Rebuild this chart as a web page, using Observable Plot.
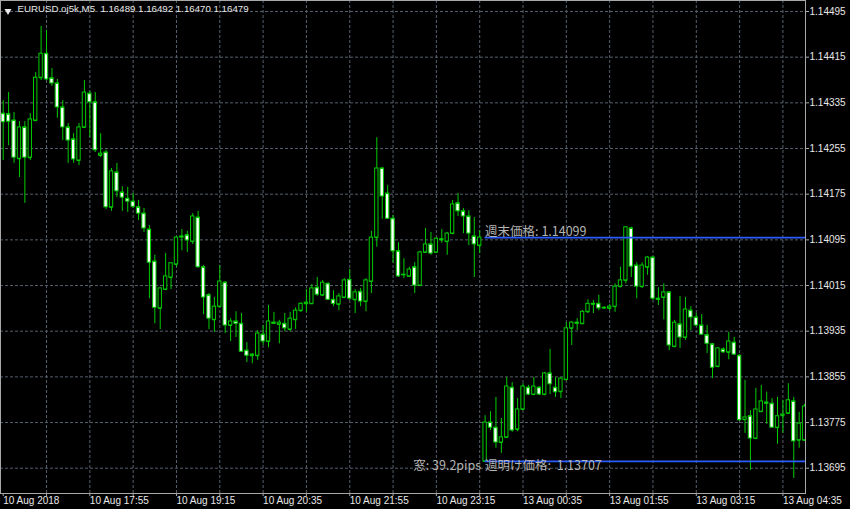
<!DOCTYPE html>
<html><head><meta charset="utf-8">
<script src="https://cdn.jsdelivr.net/npm/d3@7"></script>
<script src="https://cdn.jsdelivr.net/npm/@observablehq/plot@0.6"></script>
<style>
html,body{margin:0;padding:0;background:#000;}
</style></head><body><div id="chart"></div>
<script>
const symbolTitle = "EURUSD.oj5k,M5";
const headerQuotes = ["1.16489", "1.16492", "1.16470", "1.16479"];

const opens = [1.14316,1.14315,1.14304,1.14237,1.14292,1.14239,1.14304,1.14379,1.14421,1.14378,
1.14369,1.14327,1.14292,1.14271,1.14234,1.14292,1.14351,1.14336,1.14243,1.14248,
1.14152,1.14213,1.14178,1.14167,1.14162,1.14152,1.14141,1.14113,1.14057,1.13975,
1.14008,1.14029,1.14052,1.14101,1.14103,1.14092,1.14134,1.14047,1.13998,1.13955,
1.13978,1.14020,1.13945,1.13952,1.13948,1.13901,1.13892,1.13892,1.13929,1.13917,
1.13950,1.13947,1.13948,1.13938,1.13955,1.13971,1.13983,1.13983,1.14011,1.13998,
1.14018,1.13990,1.13982,1.13994,1.14025,1.13990,1.14004,1.13987,1.14022,1.14099,
1.14220,1.14176,1.14132,1.14075,1.14034,1.14031,1.14047,1.14015,1.14073,1.14087,
1.14073,1.14096,1.14092,1.14106,1.14159,1.14145,1.14136,1.14101,1.14085,1.13707,
1.13775,1.13766,1.13740,1.13749,1.13836,1.13763,1.13798,1.13836,1.13824,1.13836,
1.13824,1.13861,1.13836,1.13829,1.13850,1.13940,1.13950,1.13948,1.13969,1.13982,
1.13983,1.13976,1.13975,1.13978,1.14013,1.14024,1.14115,1.14050,1.14013,1.14047,
1.14064,1.13992,1.13994,1.14003,1.13908,1.13947,1.13924,1.13971,1.13959,1.13945,
1.13928,1.13912,1.13873,1.13903,1.13898,1.13915,1.13892,1.13780,1.13786,1.13747,
1.13794,1.13810,1.13808,1.13766,1.13787,1.13791,1.13812,1.13744,1.13744];

const highs = [1.14339,1.14353,1.14318,1.14302,1.14302,1.14316,1.14388,1.14469,1.14462,1.14395,
1.14376,1.14339,1.14299,1.14281,1.14299,1.14374,1.14355,1.14353,1.14281,1.14252,
1.14220,1.14229,1.14188,1.14187,1.14176,1.14164,1.14150,1.14120,1.14068,1.14011,
1.14071,1.14055,1.14101,1.14113,1.14110,1.14141,1.14145,1.14050,1.14001,1.13994,
1.14050,1.14022,1.13957,1.13969,1.13966,1.13915,1.13896,1.13936,1.13945,1.13980,
1.13968,1.13954,1.13966,1.13968,1.13976,1.13985,1.14008,1.14017,1.14029,1.14024,
1.14020,1.14006,1.14001,1.14027,1.14043,1.14008,1.14010,1.14027,1.14110,1.14274,
1.14222,1.14190,1.14138,1.14090,1.14062,1.14047,1.14055,1.14075,1.14115,1.14108,
1.14099,1.14113,1.14108,1.14164,1.14176,1.14150,1.14146,1.14134,1.14111,1.13787,
1.13794,1.13819,1.13782,1.13854,1.13845,1.13817,1.13843,1.13840,1.13854,1.13838,
1.13863,1.13903,1.13854,1.13854,1.13950,1.13952,1.13957,1.13971,1.13990,1.13989,
1.13998,1.13978,1.13982,1.14018,1.14047,1.14118,1.14117,1.14055,1.14055,1.14066,
1.14066,1.14011,1.14018,1.14004,1.13954,1.13996,1.13994,1.13978,1.13966,1.13964,
1.13945,1.13913,1.13906,1.13906,1.13933,1.13924,1.13894,1.13849,1.13796,1.13835,
1.13840,1.13828,1.13817,1.13819,1.13814,1.13843,1.13819,1.13793,1.13807];

const lows = [1.14234,1.14260,1.14229,1.14204,1.14159,1.14234,1.14302,1.14374,1.14374,1.14364,
1.14308,1.14269,1.14229,1.14229,1.14225,1.14290,1.14274,1.14248,1.14239,1.14148,
1.14145,1.14169,1.14145,1.14143,1.14150,1.14129,1.14108,1.13992,1.13948,1.13938,
1.14006,1.14008,1.14047,1.14076,1.14073,1.14087,1.14045,1.13964,1.13938,1.13933,
1.13976,1.13931,1.13917,1.13924,1.13898,1.13880,1.13878,1.13884,1.13910,1.13906,
1.13947,1.13913,1.13934,1.13934,1.13938,1.13968,1.13968,1.13982,1.13996,1.13996,
1.13989,1.13978,1.13971,1.13992,1.13989,1.13966,1.13978,1.13969,1.14001,1.14082,
1.14131,1.14131,1.14054,1.14029,1.14027,1.14029,1.14001,1.14013,1.14071,1.14068,
1.14071,1.14089,1.14068,1.14104,1.14136,1.14106,1.14085,1.14029,1.14071,1.13705,
1.13761,1.13730,1.13721,1.13747,1.13758,1.13759,1.13796,1.13822,1.13822,1.13822,
1.13822,1.13824,1.13819,1.13817,1.13849,1.13910,1.13936,1.13947,1.13966,1.13966,
1.13971,1.13973,1.13971,1.13968,1.14011,1.14018,1.14029,1.13992,1.14010,1.14033,
1.13989,1.13980,1.13955,1.13901,1.13906,1.13905,1.13919,1.13936,1.13943,1.13928,
1.13896,1.13852,1.13871,1.13896,1.13885,1.13892,1.13777,1.13756,1.13691,1.13745,
1.13793,1.13772,1.13765,1.13737,1.13756,1.13789,1.13677,1.13730,1.13742];

const closes = [1.14301,1.14302,1.14239,1.14292,1.14239,1.14306,1.14379,1.14421,1.14376,1.14369,
1.14327,1.14292,1.14269,1.14236,1.14292,1.14353,1.14336,1.14252,1.14246,1.14152,
1.14215,1.14180,1.14169,1.14162,1.14153,1.14141,1.14115,1.14055,1.13976,1.14010,
1.14031,1.14054,1.14099,1.14099,1.14094,1.14136,1.14047,1.13994,1.13957,1.13978,
1.14022,1.13945,1.13952,1.13948,1.13899,1.13892,1.13894,1.13931,1.13917,1.13952,
1.13948,1.13950,1.13940,1.13957,1.13971,1.13983,1.13985,1.14010,1.13999,1.14020,
1.13990,1.13983,1.13996,1.14024,1.13992,1.14003,1.13987,1.14024,1.14099,1.14220,
1.14171,1.14132,1.14075,1.14031,1.14033,1.14043,1.14015,1.14073,1.14087,1.14071,
1.14097,1.14094,1.14106,1.14157,1.14145,1.14136,1.14106,1.14087,1.14099,1.13775,
1.13766,1.13740,1.13749,1.13838,1.13761,1.13798,1.13838,1.13824,1.13838,1.13824,
1.13861,1.13842,1.13828,1.13852,1.13940,1.13950,1.13948,1.13969,1.13983,1.13983,
1.13975,1.13975,1.13978,1.14013,1.14024,1.14117,1.14048,1.14013,1.14050,1.14064,
1.13992,1.13990,1.14003,1.13910,1.13950,1.13924,1.13973,1.13959,1.13945,1.13929,
1.13913,1.13871,1.13905,1.13898,1.13917,1.13894,1.13779,1.13784,1.13747,1.13798,
1.13812,1.13808,1.13766,1.13786,1.13789,1.13814,1.13742,1.13773,1.13803];

const yTicks = [1.14495, 1.14415, 1.14335, 1.14255, 1.14175, 1.14095, 1.14015, 1.13935, 1.13855, 1.13775, 1.13695];
const xTickBars = [0, 8, 16, 24, 32, 40, 48, 56, 64, 72, 80, 88, 96, 104, 112, 120, 128, 136, 144];
const xLabelBars = [0, 16, 32, 48, 64, 80, 96, 112, 128, 144];
const xLabelTexts = ["10 Aug 2018", "10 Aug 17:55", "10 Aug 19:15", "10 Aug 20:35", "10 Aug 21:55",
  "10 Aug 23:15", "13 Aug 00:35", "13 Aug 01:55", "13 Aug 03:15", "13 Aug 04:35"];

const weekendClose = 1.14099;
const weekOpen = 1.13707;
const weekOpenBar = 89;
const gapPips = 39.2;

// ---- build ----
const bars = opens.map((o, i) => ({i, o, h: highs[i], l: lows[i], c: closes[i]}));
const bullBars = bars.filter(d => d.c >= d.o);
const bearBars = bars.filter(d => d.c < d.o);
const labelMap = new Map(xLabelBars.map((b, k) => [b, xLabelTexts[k]]));
const xMax = 148.17;
const half = 0.31;
const green = "#00cc00";
const gridColor = "#56606c";
const blue = "#2a5cff";
const annColor = "#b4b4b4";
const textColor = "#e8e8e8";
const cjk = "'Noto Sans CJK JP', sans-serif";

const bodyOpts = (fill) => ({
  x1: d => d.i - half, x2: d => d.i + half,
  y1: d => Math.min(d.o, d.c), y2: d => Math.max(d.o, d.c),
  fill, stroke: green, strokeWidth: 1, clip: true
});

const chart = Plot.plot({
  width: 850, height: 509,
  marginLeft: 0, marginRight: 45, marginTop: 0, marginBottom: 16,
  style: {background: "#000", color: textColor, fontFamily: "'Liberation Sans', Arial, sans-serif", fontSize: "10px", overflow: "visible"},
  x: {type: "linear", domain: [-0.5, xMax], axis: null, label: null},
  y: {type: "linear", domain: [1.136507, 1.145143], axis: null, label: null},
  marks: [
    Plot.ruleY(yTicks, {stroke: gridColor, strokeDasharray: "3,2"}),
    Plot.ruleX(xTickBars.filter(b => b > 0), {stroke: gridColor, strokeDasharray: "3,2"}),
    Plot.ruleX(bars, {x: "i", y1: "l", y2: "h", stroke: green, strokeWidth: 1, clip: true}),
    Plot.rect(bullBars, bodyOpts("#000")),
    Plot.rect(bearBars, bodyOpts("#fff")),
    Plot.ruleY(bars, {x1: d => d.i - half, x2: d => d.i + half, y: "o", stroke: green, clip: true}),
    Plot.ruleY([weekendClose], {x1: weekOpenBar, x2: xMax, stroke: blue, strokeWidth: 1.7, clip: true}),
    Plot.ruleY([weekOpen], {x1: weekOpenBar, x2: xMax, stroke: blue, strokeWidth: 1.7, clip: true}),
    Plot.text([`週末価格: ${weekendClose.toFixed(5)}`], {
      x: weekOpenBar, y: weekendClose, text: d => d, textAnchor: "start", lineAnchor: "bottom",
      dy: -2, fill: annColor, fontFamily: cjk, fontSize: 12.5
    }),
    Plot.text([`週明け価格:\u00a0 ${weekOpen.toFixed(5)}`], {
      x: weekOpenBar, y: weekOpen, text: d => d, textAnchor: "start", lineAnchor: "top",
      dy: 0, fill: annColor, fontFamily: cjk, fontSize: 12.5
    }),
    Plot.text([`窓: ${gapPips}pips`], {
      x: weekOpenBar, y: weekOpen, text: d => d, textAnchor: "end", lineAnchor: "top",
      dx: -4, dy: 0, fill: annColor, fontFamily: cjk, fontSize: 12.5
    }),
    Plot.dot([0], {frameAnchor: "top-left", dx: 7.5, dy: 10.5, symbol: "triangle", rotate: 180, r: 2.6, fill: textColor, stroke: "none"}),
    Plot.text([`${symbolTitle}\u00a0 ${headerQuotes.join(" ")}`], {
      frameAnchor: "top-left", dx: 17, dy: 8.5, text: d => d, textAnchor: "start", lineAnchor: "middle",
      fill: textColor, fontSize: 9.7
    }),
    Plot.frame({stroke: "#a8a8a8"}),
    Plot.axisY(yTicks, {anchor: "right", label: null, tickSize: 3, tickPadding: 1, tickFormat: d => d.toFixed(5),
      stroke: "#a8a8a8", fill: textColor, fontSize: 10}),
    Plot.axisX(xTickBars, {anchor: "bottom", label: null, tickSize: 3, tickPadding: 0, tickFormat: b => labelMap.get(b) ?? "",
      textAnchor: "start", dx: 0, stroke: "#a8a8a8", fill: textColor, fontSize: 10})
  ]
});
document.getElementById("chart").appendChild(chart);
</script>
</body></html>
